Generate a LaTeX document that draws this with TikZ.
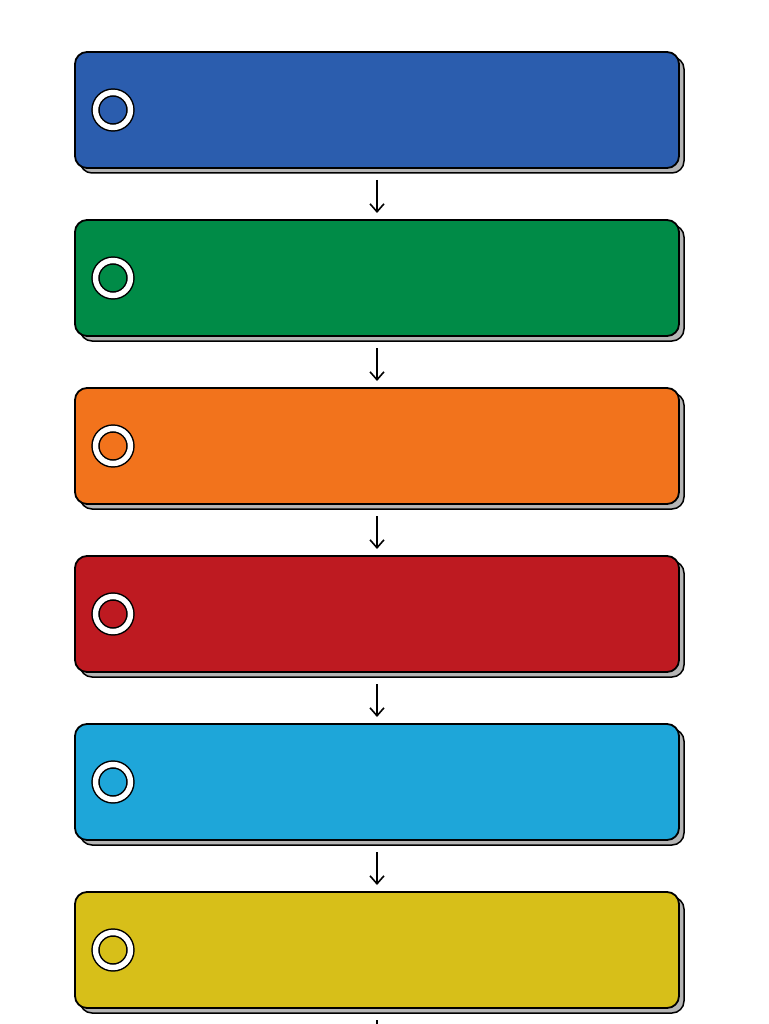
\documentclass[tikz,border=0pt]{standalone}
\usepackage{tikz}
\usetikzlibrary{positioning,shadows,arrows.meta}
\definecolor{stepblue}{HTML}{2B5DAE}
\definecolor{stepgreen}{HTML}{008B47}
\definecolor{steporange}{HTML}{F2731C}
\definecolor{stepred}{HTML}{BE1A21}
\definecolor{stepcyan}{HTML}{1EA6D9}
\definecolor{stepyellow}{HTML}{D7BF19}
\definecolor{stepshade}{HTML}{B5B5B5}
\tikzset{
	stepbox/.style={draw=black, line width=1.8pt, rounded corners=12pt, minimum width=604pt, minimum height=116pt, inner sep=0pt, outer sep=0pt,
		general shadow={fill=stepshade, draw=black, line width=1.5pt, shadow xshift=5pt, shadow yshift=-5pt}},
	ring/.style={circle, draw=black, line width=1.5pt, double=white, double distance=5.4pt, minimum size=35pt, inner sep=0pt},
	flow/.style={line width=1.6pt, -{Straight Barb[length=8pt, width=14pt, line width=1.6pt]}}
}
\begin{document}
\begin{tikzpicture}[x=1pt, y=1pt]
		%%%%% START %%%%%
		\useasboundingbox (0, 0) rectangle (768, -1024);
		\clip (0, 0) rectangle (768, -1024);
		
		\node[stepbox, fill=stepblue] (s1) at (377, -110) {};
		\node[stepbox, fill=stepgreen, below=52pt of s1] (s2) {};
		\node[stepbox, fill=steporange, below=52pt of s2] (s3) {};
		\node[stepbox, fill=stepred, below=52pt of s3] (s4) {};
		\node[stepbox, fill=stepcyan, below=52pt of s4] (s5) {};
		\node[stepbox, fill=stepyellow, below=52pt of s5] (s6) {};
		
		\node[ring, fill=stepblue] (r1) at ([xshift=38pt]s1.west) {};
		\node[ring, fill=stepgreen] (r2) at ([xshift=38pt]s2.west) {};
		\node[ring, fill=steporange] (r3) at ([xshift=38pt]s3.west) {};
		\node[ring, fill=stepred] (r4) at ([xshift=38pt]s4.west) {};
		\node[ring, fill=stepcyan] (r5) at ([xshift=38pt]s5.west) {};
		\node[ring, fill=stepyellow] (r6) at ([xshift=38pt]s6.west) {};
		
		\coordinate (s7) at ([yshift=-52pt]s6.south);
		
		\draw[flow] ([yshift=-12pt]s1.south) -- ([yshift=7pt]s2.north);
		\draw[flow] ([yshift=-12pt]s2.south) -- ([yshift=7pt]s3.north);
		\draw[flow] ([yshift=-12pt]s3.south) -- ([yshift=7pt]s4.north);
		\draw[flow] ([yshift=-12pt]s4.south) -- ([yshift=7pt]s5.north);
		\draw[flow] ([yshift=-12pt]s5.south) -- ([yshift=7pt]s6.north);
		\draw[flow] ([yshift=-12pt]s6.south) -- ([yshift=7pt]s7);
		
		%%%%% END %%%%%
\end{tikzpicture}
\end{document}
